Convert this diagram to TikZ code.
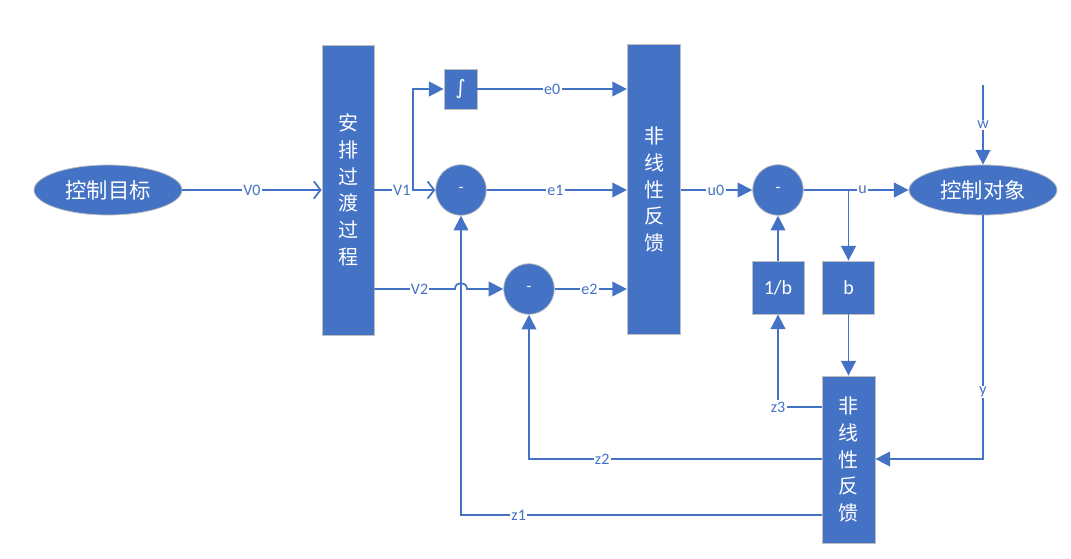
\documentclass[tikz,border=0pt]{standalone}
\usepackage{fontspec}
\setmainfont{Carlito}
\newfontfamily\cjk{Noto Sans CJK SC}
\newfontfamily\djv{DejaVu Sans}
\usetikzlibrary{arrows.meta,shapes.geometric}
\definecolor{blu}{HTML}{4472C4}
\definecolor{edgec}{HTML}{BFBFBF}
\begin{document}
\begin{tikzpicture}[x=0.75pt,y=-0.75pt,
 blk/.style={fill=blu,draw=edgec,line width=0.6pt,text=white,inner sep=0pt},
 ell/.style={blk,ellipse,minimum width=111pt,minimum height=37.5pt,font=\cjk\fontsize{16}{18}\selectfont},
 sumc/.style={blk,circle,minimum size=38pt,font=\fontsize{12}{14}\selectfont},
 vbar/.style={blk,align=center,font=\cjk\fontsize{15}{20}\selectfont},
 sq/.style={blk,minimum width=39pt,minimum height=39.75pt,font=\fontsize{15}{17}\selectfont},
 wire/.style={draw=blu,line width=1.3pt},
 arr/.style={wire,-{Triangle[length=11pt,width=11pt]}},
 oarr/.style={wire,-{Straight Barb[length=5pt,width=13pt]}},
 lbl/.style={fill=white,text=blu,font=\fontsize{12}{14}\selectfont,inner sep=1pt}]
\useasboundingbox (0,0) rectangle (1071,558);
% nodes
\node[ell] (goal) at (108,190) {控制目标};
\node[vbar,minimum width=39pt,minimum height=217.5pt] (arrg) at (348,190) {安\\排\\过\\渡\\过\\程};
\node[blk,minimum width=24.75pt,minimum height=30pt,font=\djv\fontsize{15}{17}\selectfont] (int) at (460.5,89) {∫};
\node[sumc] (c1) at (461,190) {-};
\node[sumc] (c2) at (529,289) {-};
\node[vbar,minimum width=40pt,minimum height=218pt] (nlf) at (654,189.5) {非\\线\\性\\反\\馈};
\node[sumc] (c3) at (778,190) {-};
\node[ell] (plant) at (983,190) {控制对象};
\node[sq] (inv) at (778,287.5) {1/b};
\node[sq] (bb) at (848.5,287.5) {b};
\node[vbar,minimum width=39.75pt,minimum height=125.25pt] (nlf2) at (848.5,459.5) {非\\线\\性\\反\\馈};
% coordinates
\coordinate (b1) at (413,190);
\coordinate (b2) at (848.5,190);
\coordinate (j1) at (455,289);
\coordinate (j2) at (467,289);
\coordinate (z3c) at (778,407);
\coordinate (wt) at (983,85);
\coordinate (yc) at (983,459);
\coordinate (z2c) at (529,459);
\coordinate (z1c) at (461,515);
% connectors
\draw[oarr] (goal.east) -- node[lbl,pos=0.5]{V0} (goal.east -| arrg.west);
\draw[oarr] (arrg.east |- c1) -- node[lbl,pos=0.45]{V1} (c1.west);
\draw[arr] (b1) |- (int.west);
\draw[arr] (int.east) -- node[lbl,pos=0.5]{e0} (int.east -| nlf.west);
\draw[arr] (c1.east) -- node[lbl,pos=0.49]{e1} (c1 -| nlf.west);
\draw[arr] (arrg.east |- c2) -- node[lbl,pos=0.56]{V2} (j1) .. controls (455,281) and (467,281) .. (j2) -- (c2.west);
\draw[arr] (c2.east) -- node[lbl,pos=0.48]{e2} (c2 -| nlf.west);
\draw[arr] (nlf.east |- c3) -- node[lbl,pos=0.49]{u0} (c3.west);
\draw[arr] (c3.east) -- node[lbl,pos=0.56]{u} (plant.west);
\draw[arr] (b2) -- (bb.north);
\draw[arr] (inv.north) -- (c3.south);
\draw[arr] (bb.south) -- (nlf2.north);
\draw[arr] (nlf2.west |- z3c) -- (z3c) -- (inv.south);
\node[lbl] at (z3c) {z3};
\draw[arr] (wt) -- node[lbl,pos=0.5]{w} (plant.north);
\draw[arr] (plant.south) -- node[lbl,pos=0.725]{y} (yc) -- (yc -| nlf2.east);
\draw[arr] (nlf2.west |- z2c) -- node[lbl,pos=0.75]{z2} (z2c) -- (c2.south);
\draw[arr] (nlf2.west |- z1c) -- node[lbl,pos=0.84]{z1} (z1c) -- (c1.south);
\end{tikzpicture}
\end{document}
